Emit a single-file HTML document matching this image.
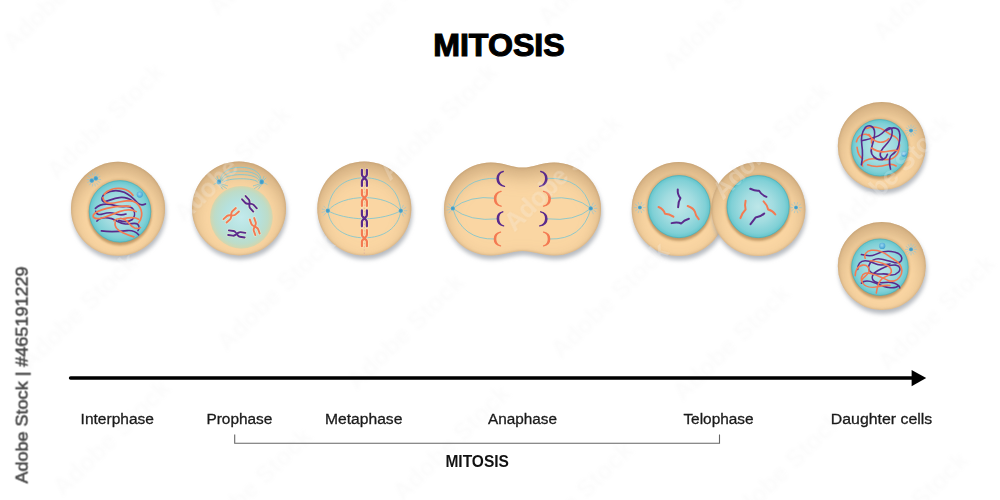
<!DOCTYPE html>
<html><head><meta charset="utf-8">
<style>
html,body{margin:0;padding:0;background:#fff;width:1000px;height:500px;overflow:hidden}
svg{display:block}
text{font-family:"Liberation Sans",sans-serif}
</style></head><body>
<svg width="1000" height="500" viewBox="0 0 1000 500">
<defs>
<filter id="cell" x="-20%" y="-20%" width="140%" height="150%" color-interpolation-filters="sRGB">
<feGaussianBlur in="SourceAlpha" stdDeviation="2" result="sb"/>
<feOffset in="sb" dx="1" dy="3.8" result="so"/>
<feFlood flood-color="#959aa3" flood-opacity="0.68"/>
<feComposite in2="so" operator="in" result="shadow"/>
<feGaussianBlur in="SourceAlpha" stdDeviation="9" result="ib"/>
<feOffset in="ib" dx="0" dy="9" result="ibo"/>
<feComposite in="SourceAlpha" in2="ibo" operator="out" result="rim"/>
<feFlood flood-color="#b39066" flood-opacity="0.62"/>
<feComposite in2="rim" operator="in" result="rimc"/>
<feGaussianBlur in="SourceAlpha" stdDeviation="1.5" result="ib2"/>
<feComposite in="SourceAlpha" in2="ib2" operator="out" result="rim2"/>
<feFlood flood-color="#a8855c" flood-opacity="0.55"/>
<feComposite in2="rim2" operator="in" result="rimc2"/>
<feMerge><feMergeNode in="shadow"/><feMergeNode in="SourceGraphic"/><feMergeNode in="rimc"/><feMergeNode in="rimc2"/></feMerge>
</filter>
<filter id="nsh" x="-20%" y="-20%" width="140%" height="150%" color-interpolation-filters="sRGB">
<feGaussianBlur in="SourceAlpha" stdDeviation="1.3" result="sb"/>
<feOffset in="sb" dx="-0.3" dy="2.6" result="so"/>
<feFlood flood-color="#b88e5c" flood-opacity="0.75"/>
<feComposite in2="so" operator="in" result="shadow"/>
<feMorphology in="SourceAlpha" operator="dilate" radius="1" result="dl"/>
<feGaussianBlur in="dl" stdDeviation="1.2" result="db"/>
<feFlood flood-color="#b88e5c" flood-opacity="0.45"/>
<feComposite in2="db" operator="in" result="ring"/>
<feMerge><feMergeNode in="ring"/><feMergeNode in="shadow"/><feMergeNode in="SourceGraphic"/></feMerge>
</filter>
<filter id="wm" x="-10%" y="-30%" width="120%" height="160%" color-interpolation-filters="sRGB">
<feGaussianBlur in="SourceAlpha" stdDeviation="1.8" result="b"/>
<feFlood flood-color="#000" flood-opacity="0.09"/>
<feComposite in2="b" operator="in" result="g"/>
<feMerge><feMergeNode in="g"/><feMergeNode in="SourceGraphic"/></feMerge>
</filter>
<radialGradient id="nu" cx="50%" cy="50%" r="50%">
<stop offset="0" stop-color="#bde6e8"/>
<stop offset="0.5" stop-color="#a2dce0"/>
<stop offset="0.86" stop-color="#80d0d6"/>
<stop offset="0.96" stop-color="#6cc8cf"/>
<stop offset="1" stop-color="#5cc0c9"/>
</radialGradient>
<radialGradient id="nup" cx="50%" cy="50%" r="50%">
<stop offset="0" stop-color="#c3eaec"/>
<stop offset="0.55" stop-color="#b5e1de"/>
<stop offset="0.85" stop-color="#bddcc8"/>
<stop offset="0.96" stop-color="#cdd8b5"/>
<stop offset="1" stop-color="#d9d5aa"/>
</radialGradient>
<radialGradient id="cs" cx="50%" cy="50%" r="55%">
<stop offset="0" stop-color="#3f94bf"/>
<stop offset="0.6" stop-color="#4aa6d0"/>
<stop offset="1" stop-color="#6bb8d8"/>
</radialGradient>
<radialGradient id="nl" cx="45%" cy="40%" r="60%">
<stop offset="0" stop-color="#9ad6ef"/>
<stop offset="1" stop-color="#3e9fd3"/>
</radialGradient>
</defs>
<text x="433.2" y="56.1" font-size="30.8" font-weight="bold" textLength="131.5" lengthAdjust="spacingAndGlyphs" fill="#000" stroke="#000" stroke-width="1.1">MITOSIS</text>
<g filter="url(#cell)"><circle cx="118" cy="208.8" r="47" fill="#fad6a3"/></g>
<g filter="url(#nsh)"><circle cx="120" cy="211.4" r="30.8" fill="url(#nu)" stroke="#48b1bd" stroke-width="0.7"/></g>
<path d="M98.40,179.50L100.60,179.50M97.94,181.50L99.93,182.45M96.67,183.10L98.04,184.82M94.82,183.98L95.31,186.13M92.78,183.98L92.29,186.13M90.93,183.10L89.56,184.82M89.66,181.50L87.67,182.45M89.20,179.50L87.00,179.50M89.66,177.50L87.67,176.55M90.93,175.90L89.56,174.18M92.78,175.02L92.29,172.87M94.82,175.02L95.31,172.87M96.67,175.90L98.04,174.18M97.94,177.50L99.93,176.55" stroke="#86c4dc" stroke-width="0.6" stroke-linecap="round" stroke-dasharray="0.9 0.8" fill="none"/>
<circle cx="91.80" cy="180.60" r="2.3" fill="url(#cs)"/>
<circle cx="95.80" cy="178.40" r="2.3" fill="url(#cs)"/>
<g fill="none" stroke-linecap="round" stroke-linejoin="round" transform="translate(90,182.6) scale(0.12)">
<circle cx="415" cy="100" r="26" fill="url(#nl)"/>
<g stroke="#5a2a8c" stroke-width="14">
<path d="M462 178 C440 188,415 188,395 168 C370 140,330 100,285 80 C235 62,170 66,125 92 C95 112,92 148,115 160"/>
<path d="M120 160 C160 150,200 130,245 125 C290 120,330 135,355 155"/>
<path d="M45 215 C70 190,120 175,170 182 C215 190,245 205,280 200 C320 195,345 200,362 225 C378 255,372 290,350 310 C320 330,270 325,240 315"/>
<path d="M48 240 C52 262,75 272,105 262 C145 250,175 245,205 258 C235 270,270 272,300 262"/>
<path d="M58 320 C80 292,130 288,180 300 C220 312,245 342,295 345 C340 348,370 330,395 345 C412 360,412 385,400 400"/>
<path d="M95 402 C160 412,240 408,310 400 C350 396,385 412,405 435"/>
</g>
<g stroke="#f47a52" stroke-width="14">
<path d="M118 98 C150 58,210 42,265 50 C310 58,340 80,358 106"/>
<path d="M108 125 C112 150,125 168,160 172 C210 176,260 152,320 150 C370 150,410 180,425 225 C438 265,428 305,405 335"/>
<path d="M335 198 C270 192,200 200,140 215 C90 228,45 240,28 270 C18 295,50 305,85 298 C140 285,190 262,250 240 C300 225,350 222,385 242"/>
<path d="M200 318 C225 293,275 292,305 318 C325 340,340 365,372 378 C392 385,410 382,420 375"/>
<path d="M210 330 C200 365,225 395,275 418 C310 435,340 445,365 452"/>
<path d="M280 300 C330 290,380 290,405 305"/>
</g>
</g>
<g filter="url(#cell)"><circle cx="239" cy="208.4" r="47" fill="#fad6a3"/></g>
<circle cx="241.4" cy="217.3" r="31.4" fill="url(#nup)"/>
<g fill="none" stroke="#84c6cd" stroke-width="0.95">
<path d="M220.5,180 C220.5,163 261,163 261,180"/>
<path d="M221.5,180.5 C222,168 260,168 260,180.5"/>
<path d="M222.5,181 C224,172.5 258,172.5 259,181"/>
<path d="M223,182.5 C226,177.5 256,177.5 258,182.5"/>
</g>
<g fill="none" stroke="#84c6cd" stroke-width="0.8" stroke-linecap="round" stroke-dasharray="1 0.8">
<path d="M221.5,184 L228,186 M221,185 L226.5,188.5 M220,185.5 L223,189.5 M217,180 L214.5,177.5 M216.5,183 L213.5,184.5 M218,179.2 L217,176"/>
<path d="M259.5,184 L253,186 M260,185 L254.5,188.5 M261,185.5 L258,189.5 M264,180 L266.5,177.5 M264.5,183 L267.5,184.5 M263,179.2 L264,176"/>
</g>
<ellipse cx="219" cy="181.9" rx="2.3" ry="2.6" fill="url(#cs)"/>
<ellipse cx="261.7" cy="181.9" rx="2.3" ry="2.6" fill="url(#cs)"/>
<path transform="translate(249.45,203.8) rotate(47.6)" d="M-8.3,-2.4 L-3.6,-2.4 C-1.620,-2.4 -1.080,-0.5 0,-0.5 C1.080,-0.5 1.620,-2.4 3.6,-2.4 L8.3,-2.4 M-8.3,2.4 L-3.6,2.4 C-1.620,2.4 -1.080,0.5 0,0.5 C1.080,0.5 1.620,2.4 3.6,2.4 L8.3,2.4" fill="none" stroke="#fff2cf" stroke-opacity="0.45" stroke-width="3.5" stroke-linecap="round"/><path transform="translate(249.45,203.8) rotate(47.6)" d="M-8.3,-2.4 L-3.6,-2.4 C-1.620,-2.4 -1.080,-0.5 0,-0.5 C1.080,-0.5 1.620,-2.4 3.6,-2.4 L8.3,-2.4 M-8.3,2.4 L-3.6,2.4 C-1.620,2.4 -1.080,0.5 0,0.5 C1.080,0.5 1.620,2.4 3.6,2.4 L8.3,2.4" fill="none" stroke="#5a2a8c" stroke-width="1.9" stroke-linecap="round"/>
<path transform="translate(231.2,215.3) rotate(-42)" d="M-8.3,-2.3 L-3.6,-2.3 C-1.620,-2.3 -1.080,-0.5 0,-0.5 C1.080,-0.5 1.620,-2.3 3.6,-2.3 L8.3,-2.3 M-8.3,2.3 L-3.6,2.3 C-1.620,2.3 -1.080,0.5 0,0.5 C1.080,0.5 1.620,2.3 3.6,2.3 L8.3,2.3" fill="none" stroke="#fff2cf" stroke-opacity="0.45" stroke-width="3.5" stroke-linecap="round"/><path transform="translate(231.2,215.3) rotate(-42)" d="M-8.3,-2.3 L-3.6,-2.3 C-1.620,-2.3 -1.080,-0.5 0,-0.5 C1.080,-0.5 1.620,-2.3 3.6,-2.3 L8.3,-2.3 M-8.3,2.3 L-3.6,2.3 C-1.620,2.3 -1.080,0.5 0,0.5 C1.080,0.5 1.620,2.3 3.6,2.3 L8.3,2.3" fill="none" stroke="#f47a52" stroke-width="1.9" stroke-linecap="round"/>
<path transform="translate(254.75,226.55) rotate(70.5)" d="M-8.2,-2.3 L-3.6,-2.3 C-1.620,-2.3 -1.080,-0.5 0,-0.5 C1.080,-0.5 1.620,-2.3 3.6,-2.3 L8.2,-2.3 M-8.2,2.3 L-3.6,2.3 C-1.620,2.3 -1.080,0.5 0,0.5 C1.080,0.5 1.620,2.3 3.6,2.3 L8.2,2.3" fill="none" stroke="#fff2cf" stroke-opacity="0.45" stroke-width="3.5" stroke-linecap="round"/><path transform="translate(254.75,226.55) rotate(70.5)" d="M-8.2,-2.3 L-3.6,-2.3 C-1.620,-2.3 -1.080,-0.5 0,-0.5 C1.080,-0.5 1.620,-2.3 3.6,-2.3 L8.2,-2.3 M-8.2,2.3 L-3.6,2.3 C-1.620,2.3 -1.080,0.5 0,0.5 C1.080,0.5 1.620,2.3 3.6,2.3 L8.2,2.3" fill="none" stroke="#f47a52" stroke-width="1.9" stroke-linecap="round"/>
<path transform="translate(236.75,233.9) rotate(8.6)" d="M-8.35,-2.33 L-3.6,-2.33 C-1.620,-2.33 -1.080,-0.5 0,-0.5 C1.080,-0.5 1.620,-2.33 3.6,-2.33 L8.35,-2.33 M-8.35,2.33 L-3.6,2.33 C-1.620,2.33 -1.080,0.5 0,0.5 C1.080,0.5 1.620,2.33 3.6,2.33 L8.35,2.33" fill="none" stroke="#fff2cf" stroke-opacity="0.45" stroke-width="3.5" stroke-linecap="round"/><path transform="translate(236.75,233.9) rotate(8.6)" d="M-8.35,-2.33 L-3.6,-2.33 C-1.620,-2.33 -1.080,-0.5 0,-0.5 C1.080,-0.5 1.620,-2.33 3.6,-2.33 L8.35,-2.33 M-8.35,2.33 L-3.6,2.33 C-1.620,2.33 -1.080,0.5 0,0.5 C1.080,0.5 1.620,2.33 3.6,2.33 L8.35,2.33" fill="none" stroke="#5a2a8c" stroke-width="1.9" stroke-linecap="round"/>
<g filter="url(#cell)"><circle cx="364.3" cy="208.5" r="47" fill="#fad6a3"/></g>
<line x1="364.3" y1="163" x2="364.3" y2="254" stroke="#d9a8a0" stroke-width="0.8" stroke-dasharray="1.2 2"/>
<g fill="none" stroke="#84c6cd" stroke-width="0.9">
<path d="M327.8,210.7 C330,188 345,177.8 364.3,177.8 C383.6,177.8 398.6,188 400.8,210.7"/>
<path d="M327.8,210.7 C335,202 350,197.6 364.3,197.6 C378.6,197.6 393.6,202 400.8,210.7"/>
<path d="M327.8,210.7 C335,215 350,218.8 364.3,218.8 C378.6,218.8 393.6,215 400.8,210.7"/>
<path d="M327.8,210.7 C330,228 345,237.8 364.3,237.8 C383.6,237.8 398.6,228 400.8,210.7"/>
</g>
<path d="M325.57,213.27L323.67,215.46M324.54,211.66L321.76,212.47M324.54,209.74L321.76,208.93M325.57,208.13L323.67,205.94" stroke="#86c4dc" stroke-width="0.6" stroke-linecap="round" stroke-dasharray="0.9 0.8" fill="none"/>
<circle cx="327.8" cy="210.7" r="2.2" fill="url(#cs)"/>
<path d="M404.20,210.70L407.10,210.70M403.66,212.54L406.10,214.11M402.21,213.79L403.42,216.43M402.21,207.61L403.42,204.97M403.66,208.86L406.10,207.29" stroke="#86c4dc" stroke-width="0.6" stroke-linecap="round" stroke-dasharray="0.9 0.8" fill="none"/>
<circle cx="400.8" cy="210.7" r="2.2" fill="url(#cs)"/>
<path transform="translate(364.4,177.9) rotate(90)" d="M-8.0,-2.5 L-3.4,-2.5 C-1.530,-2.5 -1.020,-0.45 0,-0.45 C1.020,-0.45 1.530,-2.5 3.4,-2.5 L8.0,-2.5 M-8.0,2.5 L-3.4,2.5 C-1.530,2.5 -1.020,0.45 0,0.45 C1.020,0.45 1.530,2.5 3.4,2.5 L8.0,2.5" fill="none" stroke="#fff2cf" stroke-opacity="0.45" stroke-width="3.8000000000000003" stroke-linecap="round"/><path transform="translate(364.4,177.9) rotate(90)" d="M-8.0,-2.5 L-3.4,-2.5 C-1.530,-2.5 -1.020,-0.45 0,-0.45 C1.020,-0.45 1.530,-2.5 3.4,-2.5 L8.0,-2.5 M-8.0,2.5 L-3.4,2.5 C-1.530,2.5 -1.020,0.45 0,0.45 C1.020,0.45 1.530,2.5 3.4,2.5 L8.0,2.5" fill="none" stroke="#5a2a8c" stroke-width="2.2" stroke-linecap="round"/>
<path transform="translate(364.4,197.9) rotate(90)" d="M-8.0,-2.5 L-3.4,-2.5 C-1.530,-2.5 -1.020,-0.45 0,-0.45 C1.020,-0.45 1.530,-2.5 3.4,-2.5 L8.0,-2.5 M-8.0,2.5 L-3.4,2.5 C-1.530,2.5 -1.020,0.45 0,0.45 C1.020,0.45 1.530,2.5 3.4,2.5 L8.0,2.5" fill="none" stroke="#fff2cf" stroke-opacity="0.45" stroke-width="3.8000000000000003" stroke-linecap="round"/><path transform="translate(364.4,197.9) rotate(90)" d="M-8.0,-2.5 L-3.4,-2.5 C-1.530,-2.5 -1.020,-0.45 0,-0.45 C1.020,-0.45 1.530,-2.5 3.4,-2.5 L8.0,-2.5 M-8.0,2.5 L-3.4,2.5 C-1.530,2.5 -1.020,0.45 0,0.45 C1.020,0.45 1.530,2.5 3.4,2.5 L8.0,2.5" fill="none" stroke="#f47a52" stroke-width="2.2" stroke-linecap="round"/>
<path transform="translate(364.4,218.3) rotate(90)" d="M-8.0,-2.5 L-3.4,-2.5 C-1.530,-2.5 -1.020,-0.45 0,-0.45 C1.020,-0.45 1.530,-2.5 3.4,-2.5 L8.0,-2.5 M-8.0,2.5 L-3.4,2.5 C-1.530,2.5 -1.020,0.45 0,0.45 C1.020,0.45 1.530,2.5 3.4,2.5 L8.0,2.5" fill="none" stroke="#fff2cf" stroke-opacity="0.45" stroke-width="3.8000000000000003" stroke-linecap="round"/><path transform="translate(364.4,218.3) rotate(90)" d="M-8.0,-2.5 L-3.4,-2.5 C-1.530,-2.5 -1.020,-0.45 0,-0.45 C1.020,-0.45 1.530,-2.5 3.4,-2.5 L8.0,-2.5 M-8.0,2.5 L-3.4,2.5 C-1.530,2.5 -1.020,0.45 0,0.45 C1.020,0.45 1.530,2.5 3.4,2.5 L8.0,2.5" fill="none" stroke="#5a2a8c" stroke-width="2.2" stroke-linecap="round"/>
<path transform="translate(364.4,238.2) rotate(90)" d="M-8.0,-2.5 L-3.4,-2.5 C-1.530,-2.5 -1.020,-0.45 0,-0.45 C1.020,-0.45 1.530,-2.5 3.4,-2.5 L8.0,-2.5 M-8.0,2.5 L-3.4,2.5 C-1.530,2.5 -1.020,0.45 0,0.45 C1.020,0.45 1.530,2.5 3.4,2.5 L8.0,2.5" fill="none" stroke="#fff2cf" stroke-opacity="0.45" stroke-width="3.8000000000000003" stroke-linecap="round"/><path transform="translate(364.4,238.2) rotate(90)" d="M-8.0,-2.5 L-3.4,-2.5 C-1.530,-2.5 -1.020,-0.45 0,-0.45 C1.020,-0.45 1.530,-2.5 3.4,-2.5 L8.0,-2.5 M-8.0,2.5 L-3.4,2.5 C-1.530,2.5 -1.020,0.45 0,0.45 C1.020,0.45 1.530,2.5 3.4,2.5 L8.0,2.5" fill="none" stroke="#f47a52" stroke-width="2.2" stroke-linecap="round"/>
<g filter="url(#cell)"><path d="M491,162.5 C503,162.5 512,167.6 522.5,167.6 C533,167.6 542,162.5 554,162.5 A47,46.5 0 0 1 554,255.5 C542,255.5 533,251 522.5,251 C512,251 503,255.5 491,255.5 A47,46.5 0 0 1 491,162.5 Z" fill="#fad6a3"/></g>
<g fill="none" stroke="#84c6cd" stroke-width="0.9">
<path d="M452.8,208.4 Q462,177 497.9,178.3"/>
<path d="M452.8,208.4 Q470,195 495.1,198.2"/>
<path d="M452.8,208.4 Q470,222 498.2,218.8"/>
<path d="M452.8,208.4 Q462,240 495.1,239"/>
<path d="M590.8,208.4 Q582.8,177 546.9,178.3"/>
<path d="M590.8,208.4 Q574.8,195 549.6,198.4"/>
<path d="M590.8,208.4 Q574.8,222 546.6,218.8"/>
<path d="M590.8,208.4 Q582.8,240 548.9,239"/>
</g>
<path d="M450.57,210.97L448.67,213.16M449.54,209.36L446.76,210.17M449.54,207.44L446.76,206.63M450.57,205.83L448.67,203.64" stroke="#86c4dc" stroke-width="0.6" stroke-linecap="round" stroke-dasharray="0.9 0.8" fill="none"/>
<circle cx="452.8" cy="208.4" r="2.2" fill="url(#cs)"/>
<path d="M594.20,208.40L597.10,208.40M593.66,210.24L596.10,211.81M592.21,211.49L593.42,214.13M592.21,205.31L593.42,202.67M593.66,206.56L596.10,204.99" stroke="#86c4dc" stroke-width="0.6" stroke-linecap="round" stroke-dasharray="0.9 0.8" fill="none"/>
<circle cx="590.8" cy="208.4" r="2.2" fill="url(#cs)"/>
<path d="M503.3,171.5 C494.80,173.00 494.80,184.80 504.5,186.3 C496.50,184.80 496.50,173.00 503.3,171.5 Z" fill="#5a2a8c" stroke="#5a2a8c" stroke-width="1.35" stroke-linejoin="round"/>
<path d="M501.1,191.4 C492.30,192.90 492.30,204.70 501.1,206.2 C494.00,204.70 494.00,192.90 501.1,191.4 Z" fill="#f47a52" stroke="#f47a52" stroke-width="1.35" stroke-linejoin="round"/>
<path d="M502.8,211.8 C495.30,213.30 495.30,224.40 503.6,225.9 C497.00,224.40 497.00,213.30 502.8,211.8 Z" fill="#5a2a8c" stroke="#5a2a8c" stroke-width="1.35" stroke-linejoin="round"/>
<path d="M500.5,232.2 C492.30,233.70 492.30,244.30 500.5,245.8 C494.00,244.30 494.00,233.70 500.5,232.2 Z" fill="#f47a52" stroke="#f47a52" stroke-width="1.35" stroke-linejoin="round"/>
<path d="M540.7,171.5 C549.20,173.00 549.20,184.80 539.7,186.3 C547.50,184.80 547.50,173.00 540.7,171.5 Z" fill="#5a2a8c" stroke="#5a2a8c" stroke-width="1.35" stroke-linejoin="round"/>
<path d="M543.6,191.4 C552.50,192.90 552.50,204.70 543.6,206.2 C550.80,204.70 550.80,192.90 543.6,191.4 Z" fill="#f47a52" stroke="#f47a52" stroke-width="1.35" stroke-linejoin="round"/>
<path d="M540.7,211.8 C549.20,213.30 549.20,224.40 539.7,225.9 C547.50,224.40 547.50,213.30 540.7,211.8 Z" fill="#5a2a8c" stroke="#5a2a8c" stroke-width="1.35" stroke-linejoin="round"/>
<path d="M543.6,232.2 C551.70,233.70 551.70,244.30 543.6,245.8 C550.00,244.30 550.00,233.70 543.6,232.2 Z" fill="#f47a52" stroke="#f47a52" stroke-width="1.35" stroke-linejoin="round"/>
<g filter="url(#cell)"><circle cx="678.7" cy="209.1" r="47" fill="#fad6a3"/></g>
<g filter="url(#cell)"><circle cx="758.4" cy="209.1" r="47" fill="#fad6a3"/></g>
<g filter="url(#nsh)"><circle cx="679" cy="206.6" r="31.1" fill="url(#nu)" stroke="#48b1bd" stroke-width="0.7"/><circle cx="758.1" cy="206.6" r="31.1" fill="url(#nu)" stroke="#48b1bd" stroke-width="0.7"/></g>
<path d="M643.30,207.60L645.30,207.60M642.65,209.60L644.27,210.77M640.95,210.83L641.57,212.74M638.85,210.83L638.23,212.74M637.15,209.60L635.53,210.77M636.50,207.60L634.50,207.60M637.15,205.60L635.53,204.43M638.85,204.37L638.23,202.46M640.95,204.37L641.57,202.46M642.65,205.60L644.27,204.43" stroke="#86c4dc" stroke-width="0.6" stroke-linecap="round" stroke-dasharray="0.9 0.8" fill="none"/>
<circle cx="639.9" cy="207.6" r="2.0" fill="url(#cs)"/>
<path d="M799.40,207.60L801.40,207.60M798.75,209.60L800.37,210.77M797.05,210.83L797.67,212.74M794.95,210.83L794.33,212.74M793.25,209.60L791.63,210.77M792.60,207.60L790.60,207.60M793.25,205.60L791.63,204.43M794.95,204.37L794.33,202.46M797.05,204.37L797.67,202.46M798.75,205.60L800.37,204.43" stroke="#86c4dc" stroke-width="0.6" stroke-linecap="round" stroke-dasharray="0.9 0.8" fill="none"/>
<circle cx="796" cy="207.6" r="2.0" fill="url(#cs)"/>
<g fill="none" stroke-linecap="round" stroke-linejoin="round" stroke-width="16" transform="translate(648,176) scale(0.124)">
<path stroke="#5a2a8c" d="M240 108 Q236 150 262 178 Q244 205 243 252"/>
<path stroke="#f47a52" d="M85 250 Q125 265 137 305 Q170 305 205 328"/>
<path stroke="#f47a52" d="M320 242 Q365 258 378 287 Q385 325 410 348"/>
<path stroke="#5a2a8c" d="M190 380 Q240 370 268 383 Q290 355 330 345"/>
</g>
<g fill="none" stroke-linecap="round" stroke-linejoin="round" stroke-width="16" transform="translate(727,176) scale(0.124)">
<path stroke="#5a2a8c" d="M188 103 Q230 122 258 118 Q275 150 318 168"/>
<path stroke="#f47a52" d="M150 200 Q140 240 150 270 Q120 300 108 340"/>
<path stroke="#f47a52" d="M295 205 Q325 235 332 270 Q370 280 390 310"/>
<path stroke="#5a2a8c" d="M190 388 Q215 355 230 335 Q270 330 300 302"/>
</g>
<g filter="url(#cell)"><circle cx="881.8" cy="146" r="44" fill="#fad6a3"/></g>
<g filter="url(#nsh)"><circle cx="879.9" cy="147.8" r="28.3" fill="url(#nu)" stroke="#48b1bd" stroke-width="0.7"/></g>
<path d="M914.20,130.60L916.60,130.60M913.77,132.20L915.85,133.40M912.60,133.37L913.80,135.45M911.00,133.80L911.00,136.20M909.40,133.37L908.20,135.45M908.23,132.20L906.15,133.40M907.80,130.60L905.40,130.60M908.23,129.00L906.15,127.80M909.40,127.83L908.20,125.75M911.00,127.40L911.00,125.00M912.60,127.83L913.80,125.75M913.77,129.00L915.85,127.80" stroke="#86c4dc" stroke-width="0.6" stroke-linecap="round" stroke-dasharray="0.9 0.8" fill="none"/>
<circle cx="911" cy="130.6" r="2.1" fill="url(#cs)"/>
<g fill="none" stroke-linecap="round" stroke-linejoin="round" stroke-width="13" transform="translate(849,117) scale(0.124)">
<circle cx="443" cy="298" r="22" fill="url(#nl)" stroke="none"/>
<g stroke="#f47a52">
<path d="M60 200 C70 160,100 135,140 140 C175 145,185 175,182 210"/>
<path d="M140 92 C190 72,250 82,285 108 C320 135,350 150,372 160 C400 175,412 215,405 255 C398 295,380 320,350 335 C310 350,270 345,230 338 C190 332,150 340,125 355 C105 370,100 385,110 395"/>
<path d="M65 245 C70 290,80 320,110 335"/>
<path d="M150 385 C200 405,260 400,310 385 C340 378,365 385,380 395"/>
</g>
<g stroke="#5a2a8c">
<path d="M100 385 C110 330,112 280,104 230 C96 180,104 120,132 84 C160 60,195 70,205 110 C213 150,200 190,185 235 C170 280,185 320,230 340 C270 355,300 335,310 300"/>
<path d="M110 190 C150 180,200 170,240 150 C280 130,290 100,320 88 C345 80,355 110,345 150 C335 190,300 220,275 250 C250 280,240 320,270 335"/>
<path d="M300 110 C330 90,370 80,395 100 C415 120,412 180,400 230 C390 270,370 290,345 305 C320 320,325 380,335 420"/>
</g>
<g stroke="#f47a52">
<path d="M180 250 C210 270,250 285,290 280 C330 275,360 265,390 270"/>
<path d="M160 140 C175 170,200 190,230 200 C260 210,300 200,320 175"/>
</g>
</g>
<g filter="url(#cell)"><circle cx="881.8" cy="266" r="44" fill="#fad6a3"/></g>
<g filter="url(#nsh)"><circle cx="879.9" cy="267.2" r="28.3" fill="url(#nu)" stroke="#48b1bd" stroke-width="0.7"/></g>
<path d="M914.20,249.40L916.60,249.40M913.77,251.00L915.85,252.20M912.60,252.17L913.80,254.25M911.00,252.60L911.00,255.00M909.40,252.17L908.20,254.25M908.23,251.00L906.15,252.20M907.80,249.40L905.40,249.40M908.23,247.80L906.15,246.60M909.40,246.63L908.20,244.55M911.00,246.20L911.00,243.80M912.60,246.63L913.80,244.55M913.77,247.80L915.85,246.60" stroke="#86c4dc" stroke-width="0.6" stroke-linecap="round" stroke-dasharray="0.9 0.8" fill="none"/>
<circle cx="911" cy="249.4" r="2.1" fill="url(#cs)"/>
<g fill="none" stroke-linecap="round" stroke-linejoin="round" stroke-width="12.5" transform="translate(849,236) scale(0.124)">
<circle cx="268" cy="80" r="25" fill="url(#nl)" stroke="none"/>
<g stroke="#5a2a8c">
<path d="M100 150 C140 160,180 165,210 150 C250 130,300 120,340 125 C380 130,420 140,425 175 C430 210,400 220,370 215 C330 205,290 190,250 185 C210 180,170 200,160 240 C150 280,180 300,210 305 C250 310,290 300,320 310 C350 320,380 310,400 290 C420 270,410 240,380 235 C340 230,300 245,270 260 C240 275,200 290,190 320 C180 350,200 370,230 375 C270 380,310 370,340 375 C380 380,410 400,410 420"/>
<path d="M70 270 C70 230,90 200,130 200 C170 200,200 220,230 230 C260 240,300 230,330 225"/>
<path d="M100 380 C120 360,160 360,200 375 C240 390,280 410,320 415 C360 420,390 410,400 400"/>
</g>
<g stroke="#f47a52">
<path d="M130 180 C120 150,140 120,180 115 C230 110,280 130,320 160 C360 190,390 200,410 230 C430 260,430 300,410 330 C390 360,350 370,320 360 C290 350,260 330,230 320 C200 310,160 290,130 300 C100 310,90 350,110 380 C130 410,180 420,230 410 C270 400,300 395,330 400"/>
<path d="M50 320 C50 280,70 240,110 235 C150 230,170 260,160 290 C150 320,110 330,100 360"/>
<path d="M170 200 C200 200,240 210,270 220 C300 230,330 250,340 270 C350 300,320 320,290 330 C260 340,230 380,220 460"/>
</g>
</g>
<g font-size="26" font-weight="bold" fill="#fff" fill-opacity="0.22" filter="url(#wm)">
<text transform="translate(13.0,52.5) rotate(-44.5)" textLength="153" lengthAdjust="spacingAndGlyphs">Adobe Stock</text>
<text transform="translate(218.0,17.5) rotate(-44.5)" textLength="153" lengthAdjust="spacingAndGlyphs">Adobe Stock</text>
<text transform="translate(343.0,62.5) rotate(-44.5)" textLength="153" lengthAdjust="spacingAndGlyphs">Adobe Stock</text>
<text transform="translate(548.0,27.5) rotate(-44.5)" textLength="153" lengthAdjust="spacingAndGlyphs">Adobe Stock</text>
<text transform="translate(673.0,72.5) rotate(-44.5)" textLength="153" lengthAdjust="spacingAndGlyphs">Adobe Stock</text>
<text transform="translate(883.0,42.5) rotate(-44.5)" textLength="153" lengthAdjust="spacingAndGlyphs">Adobe Stock</text>
<text transform="translate(57.0,181.0) rotate(-44.5)" textLength="153" lengthAdjust="spacingAndGlyphs">Adobe Stock</text>
<text transform="translate(184.0,223.5) rotate(-44.5)" textLength="153" lengthAdjust="spacingAndGlyphs">Adobe Stock</text>
<text transform="translate(390.0,181.5) rotate(-44.5)" textLength="153" lengthAdjust="spacingAndGlyphs">Adobe Stock</text>
<text transform="translate(514.5,232.5) rotate(-44.5)" textLength="153" lengthAdjust="spacingAndGlyphs">Adobe Stock</text>
<text transform="translate(723.0,200.5) rotate(-44.5)" textLength="153" lengthAdjust="spacingAndGlyphs">Adobe Stock</text>
<text transform="translate(845.0,232.5) rotate(-44.5)" textLength="153" lengthAdjust="spacingAndGlyphs">Adobe Stock</text>
<text transform="translate(30.0,371.5) rotate(-44.5)" textLength="153" lengthAdjust="spacingAndGlyphs">Adobe Stock</text>
<text transform="translate(227.0,352.5) rotate(-44.5)" textLength="153" lengthAdjust="spacingAndGlyphs">Adobe Stock</text>
<text transform="translate(357.0,391.5) rotate(-44.5)" textLength="153" lengthAdjust="spacingAndGlyphs">Adobe Stock</text>
<text transform="translate(561.0,360.1) rotate(-44.5)" textLength="153" lengthAdjust="spacingAndGlyphs">Adobe Stock</text>
<text transform="translate(683.0,402.5) rotate(-44.5)" textLength="153" lengthAdjust="spacingAndGlyphs">Adobe Stock</text>
<text transform="translate(888.0,372.5) rotate(-44.5)" textLength="153" lengthAdjust="spacingAndGlyphs">Adobe Stock</text>
<text transform="translate(63.0,497.5) rotate(-44.5)" textLength="153" lengthAdjust="spacingAndGlyphs">Adobe Stock</text>
<text transform="translate(205.0,545.5) rotate(-44.5)" textLength="153" lengthAdjust="spacingAndGlyphs">Adobe Stock</text>
<text transform="translate(403.0,502.5) rotate(-44.5)" textLength="153" lengthAdjust="spacingAndGlyphs">Adobe Stock</text>
<text transform="translate(526.0,559.5) rotate(-44.5)" textLength="153" lengthAdjust="spacingAndGlyphs">Adobe Stock</text>
<text transform="translate(735.0,529.5) rotate(-44.5)" textLength="153" lengthAdjust="spacingAndGlyphs">Adobe Stock</text>
<text transform="translate(861.0,569.5) rotate(-44.5)" textLength="153" lengthAdjust="spacingAndGlyphs">Adobe Stock</text>
</g>
<line x1="70.6" y1="378" x2="913" y2="378" stroke="#000" stroke-width="3.6" stroke-linecap="round"/>
<path d="M911.6,369.9 L926.2,378.1 L911.6,386.3 Z" fill="#000"/>
<g font-size="15.5" fill="#1a1a1a" stroke="#1a1a1a" stroke-width="0.3">
<text x="80.6" y="423.8" textLength="73.4" lengthAdjust="spacingAndGlyphs">Interphase</text>
<text x="206.4" y="423.8" textLength="66" lengthAdjust="spacingAndGlyphs">Prophase</text>
<text x="325" y="423.8" textLength="77.4" lengthAdjust="spacingAndGlyphs">Metaphase</text>
<text x="488" y="423.8" textLength="69" lengthAdjust="spacingAndGlyphs">Anaphase</text>
<text x="683.4" y="423.8" textLength="70.2" lengthAdjust="spacingAndGlyphs">Telophase</text>
<text x="830.8" y="423.8" textLength="101.4" lengthAdjust="spacingAndGlyphs">Daughter cells</text>
</g>
<path d="M234.7,434.6 V443.2 H719.5 V434.6" fill="none" stroke="#666" stroke-width="1.1"/>
<text x="445.4" y="467" font-size="15.6" font-weight="bold" textLength="63.6" lengthAdjust="spacingAndGlyphs" fill="#111">MITOSIS</text>
<text transform="translate(27.6,483.5) rotate(-90)" font-size="16.6" fill="#4a4a4a" stroke="#4a4a4a" stroke-width="0.55" textLength="217" lengthAdjust="spacingAndGlyphs">Adobe Stock | #465191229</text>
</svg>
</body></html>
